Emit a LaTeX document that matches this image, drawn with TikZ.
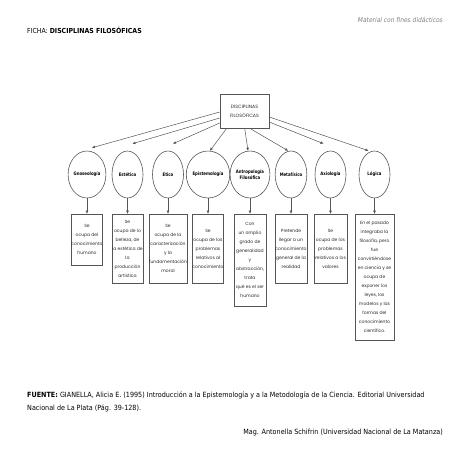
\documentclass[tikz,border=0pt]{standalone}
\usepackage{fontspec}
\setmainfont{DejaVu Sans}[FakeStretch=0.9]
\newfontfamily\gothic{Poppins}
\newfontfamily\lbl{DejaVu Sans}[FakeStretch=0.82]
\usetikzlibrary{arrows.meta,shapes.geometric,calc}
\definecolor{ln}{HTML}{555555}
\definecolor{tx}{HTML}{2A2A2A}
\tikzset{
  txt/.style={inner sep=0pt, text=black},
  topbox/.style={draw=ln, line width=0.6pt, minimum width=49, minimum height=34, inner sep=0pt,
    font=\gothic\fontsize{4.7}{9}\selectfont, align=center, text=tx},
  disc/.style={ellipse, draw=ln, line width=0.6pt, minimum width=31, minimum height=47, inner sep=0pt,
    font=\lbl\bfseries\fontsize{4.7}{6.5}\selectfont, align=center, text=black},
  descbox/.style={draw=ln, line width=0.6pt, inner sep=0pt,
    font=\gothic\fontsize{4.5}{9}\selectfont, align=center, text=tx},
  conn/.style={draw=ln, line width=0.5pt, -{Triangle[length=3pt,width=2.4pt]}}
}
\begin{document}
\begin{tikzpicture}[x=1pt,y=-1pt]
\useasboundingbox (0,0) rectangle (453,453);
% header
\node[txt, anchor=base west, font=\fontsize{6.9}{8}\selectfont] (ficha) at (27,33) {FICHA: \textbf{DISCIPLINAS FILOSÓFICAS}};
\node[txt, anchor=base east, text=gray, font=\fontsize{6.6}{8}\selectfont\itshape] (mat) at (443,22) {Material con fines didácticos};
% top
\node[topbox] (top) at (244.5,111) {DISCIPLINAS\\FILOSÓFICAS};
% ellipses
\node[disc] (gno) at (87,174.5) {Gnoseología};
\node[disc] (est) at (127.5,174.5) {Estético};
\node[disc] (eti) at (168,174.5) {Ético};
\node[disc, minimum width=32] (epi) at (208,174.5) {Epistemología};
\node[disc, minimum width=34] (ant) at (250,174.5) {Antropología\\Filosófica};
\node[disc] (met) at (291,174.5) {Metafísico};
\node[disc] (axi) at (330.5,174.5) {Axiología};
\node[disc] (log) at (374.5,174.5) {Lógica};
% boxes
\node[descbox, minimum width=30, minimum height=51] (b1) at (87,239.5) {Se\\ocupa del\\conocimiento\\humano};
\node[descbox, minimum width=31, minimum height=69] (b2) at (127.5,248.5) {Se\\ocupa de lo\\belleza, de\\la estética de\\la\\producción\\artística};
\node[descbox, minimum width=38, minimum height=69] (b3) at (168,248.5) {Se\\ocupa de la\\caracterización\\y la\\fundamentación\\moral};
\node[descbox, minimum width=30, minimum height=69] (b4) at (208,248.5) {Se\\ocupa de los\\problemas\\relativos al\\conocimiento};
\node[descbox, minimum width=32, minimum height=92] (b5) at (250,260) {Con\\un amplio\\grado de\\generalidad\\y\\abstracción,\\trata\\qué es el ser\\humano};
\node[descbox, minimum width=32, minimum height=69] (b6) at (291,248.5) {Pretende\\llegar a un\\conocimiento\\general de la\\realidad};
\node[descbox, minimum width=33, minimum height=69] (b7) at (330.5,248.5) {Se\\ocupa de los\\problemas\\relativos a los\\valores};
\node[descbox, minimum width=39, minimum height=126] (b8) at (374.5,277) {En el pasado\\integraba la\\filosofía, pero\\fue\\convirtiéndose\\en ciencia y se\\ocupa de\\exponer los\\leyes, los\\modelos y las\\formas del\\conocimiento\\científico.};
% connectors from top
\draw[conn] ([yshift=-1pt]top.west) -- ([xshift=5pt,yshift=3pt]gno.north);
\draw[conn] ([yshift=-7pt]top.west) -- ([xshift=5pt,yshift=7pt]est.north);
\draw[conn] ([yshift=-12pt]top.west) -- ([xshift=5pt,yshift=7pt]eti.north);
\draw[conn] ($(top.south west)+(7,0)$) -- ([xshift=2pt]epi.north);
\draw[conn] ($(top.south west)+(25,0)$) -- ([xshift=-2pt]ant.north);
\draw[conn] ($(top.south west)+(30,0)$) -- ([xshift=-3pt]met.north);
\draw[conn] ([yshift=-11pt]top.east) -- ([xshift=-7pt,yshift=7pt]axi.north);
\draw[conn] ([yshift=-6pt]top.east) -- ([xshift=-6pt]log.north);
% vertical
\foreach \e/\b in {gno/b1,est/b2,eti/b3,epi/b4,ant/b5,met/b6,axi/b7,log/b8}
  \draw[conn] (\e.south) -- (\b.north);
% footer
\node[txt, anchor=base west, font=\fontsize{7.15}{8}\selectfont] (f1) at (27,397) {\textbf{FUENTE:} GIANELLA, Alicia E. (1995) Introducción a la Epistemología y a la Metodología de la Ciencia. Editorial Universidad};
\node[txt, anchor=base west, font=\fontsize{7.15}{8}\selectfont] (f2) at (27,410) {Nacional de La Plata (Pág. 39-128).};
\node[txt, anchor=base east, font=\fontsize{7.15}{8}\selectfont] (mag) at (443,434) {Mag. Antonella Schifrin (Universidad Nacional de La Matanza)};
\end{tikzpicture}
\end{document}
